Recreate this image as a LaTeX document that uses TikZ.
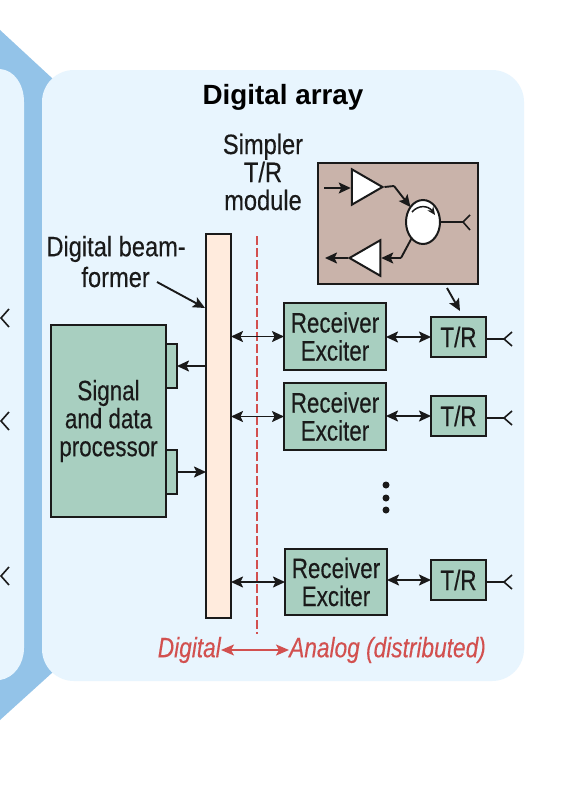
\documentclass[tikz,border=0pt]{standalone}
\usepackage{fontspec}
\setmainfont{Liberation Sans}
\newfontfamily\condf[FakeStretch=0.80,FakeBold=0.3]{Liberation Sans}
\newfontfamily\widef[FakeStretch=0.845,FakeBold=0.3]{Liberation Sans}
\newfontfamily\redf[FakeStretch=0.81,FakeBold=0.2]{Liberation Sans}
\usetikzlibrary{arrows.meta,shapes.geometric,calc}
\definecolor{panel}{HTML}{E8F5FE}
\definecolor{band}{HTML}{93C3E8}
\definecolor{grn}{HTML}{A8CFC0}
\definecolor{brn}{HTML}{C9B3AA}
\definecolor{peach}{HTML}{FFEBDD}
\definecolor{redc}{HTML}{D2504F}
\definecolor{ink}{HTML}{1A1A1A}
\tikzset{
  x=1pt,y=-1pt,
  gbox/.style={draw=ink,line width=2pt,fill=grn,inner sep=0pt,outer sep=0pt,text=ink,align=center,font=\condf\fontsize{28}{28}\selectfont},
  lbl/.style={inner sep=0pt,text=ink,align=center,font=\widef\fontsize{28}{28}\selectfont},
  redlbl/.style={inner sep=0pt,text=redc,font=\redf\itshape\fontsize{28}{28}\selectfont},
  conn/.style={draw=ink,line width=1.9pt},
  arr/.style={conn,-{Stealth[length=12pt,width=11pt,inset=2.5pt]}},
  darr/.style={conn,{Stealth[length=12pt,width=11pt,inset=2.5pt]}-{Stealth[length=12pt,width=11pt,inset=2.5pt]}},
  tri/.style={draw=ink,line width=2pt,fill=white,line join=miter},
  ant/.style={draw=ink,line width=1.6pt},
}
\begin{document}
\begin{tikzpicture}
\useasboundingbox (0,0) rectangle (573,800);
\fill[white] (0,0) rectangle (573,800);
% blue band
\fill[band] (0,30) -- (53,79) -- (53,672) -- (0,720) -- cycle;
% left panel
\fill[panel] (0,69) .. controls (14,70) and (24,84) .. (24,102) -- (24,648) .. controls (24,664) and (14,678) .. (0,680) -- cycle;
% antennas on the left panel
\foreach \yy in {318,421,576}
  \draw[ant] (9,\yy-9) -- (1,\yy) -- (9,\yy+9);
% main panel
\fill[panel,rounded corners=32pt] (42,70) rectangle (524,681);
\node[inner sep=0pt,text=black,font=\bfseries\fontsize{27.8}{28}\selectfont] (title) at (283,97) {Digital array};
\node[lbl] (simpler) at (263,172) {Simpler\\T/R\\module};
\node[lbl,anchor=east] (dbf) at (186,249) {Digital beam-};
\node[lbl,anchor=east] (dbf2) at (150,277) {former};
% digital beamformer bar
\node[draw=ink,line width=2pt,fill=peach,minimum width=25pt,minimum height=384pt,inner sep=0pt,outer sep=0pt] (bar) at (218.5,426) {};
% dashed divider
\coordinate (dtop) at (257,236);
\coordinate (dbot) at (257,634);
\draw[redc,line width=1.5pt,dash pattern=on 9pt off 3pt] (dtop) -- (dbot);
% processor
\node[gbox,minimum width=11pt,minimum height=44pt] (tab1) at (171.5,366) {};
\node[gbox,minimum width=11pt,minimum height=44pt] (tab2) at (171.5,472) {};
\node[gbox,minimum width=115pt,minimum height=192pt] (sdp) at (108.5,421) {Signal\\and data\\processor};
% receivers
\node[gbox,minimum width=102pt,minimum height=67pt] (rx1) at (335,336.5) {Receiver\\Exciter};
\node[gbox,minimum width=102pt,minimum height=67pt] (rx2) at (335,416.5) {Receiver\\Exciter};
\node[gbox,minimum width=102pt,minimum height=66pt] (rx3) at (336,582) {Receiver\\Exciter};
% T/R
\node[gbox,minimum width=55pt,minimum height=40pt] (tr1) at (458.5,337) {T/R};
\node[gbox,minimum width=55pt,minimum height=40pt] (tr2) at (458.5,416) {T/R};
\node[gbox,minimum width=55pt,minimum height=40pt] (tr3) at (458.5,580) {T/R};
% connectors
\draw[darr] (bar.east |- rx1.west) -- (rx1.west);
\draw[darr] (bar.east |- rx2.west) -- (rx2.west);
\draw[darr] (bar.east |- rx3.west) -- (rx3.west);
\draw[darr] (rx1.east |- tr1.west) -- (tr1.west);
\draw[darr] (rx2.east |- tr2.west) -- (tr2.west);
\draw[darr] (rx3.east |- tr3.west) -- (tr3.west);
\draw[arr] (bar.west |- tab1.east) -- (tab1.east);
\draw[arr] (tab2.east) -- (bar.west |- tab2.east);
\coordinate (dbfs) at (157,282);
\coordinate (dbfe) at (205,308);
\draw[arr] (dbfs) -- (dbfe);
% T/R antennas
\foreach \n in {1,2,3}{
  \coordinate (a\n) at ($(tr\n.east)+(18,2)$);
  \draw[ant] (tr\n.east |- a\n) -- (a\n) ++(8,-7) -- ++(-8,7) -- ++(8,7);
}
% dots
\foreach \yy [count=\i] in {485,498,510}
  \node[circle,fill=ink,minimum size=7pt,inner sep=0pt] (dot\i) at (386,\yy) {};
% T/R module detail
\node[draw=ink,line width=2pt,fill=brn,minimum width=160pt,minimum height=121pt,inner sep=0pt,outer sep=0pt] (mod) at (398,223.5) {};
\node[tri,regular polygon,regular polygon sides=3,shape border rotate=-90,inner sep=0pt,minimum size=41pt] (amp1) at (362,187) {};
\node[tri,regular polygon,regular polygon sides=3,shape border rotate=90,inner sep=0pt,minimum size=41pt] (amp2) at (370,258) {};
\node[draw=ink,line width=2pt,fill=white,ellipse,minimum width=34pt,minimum height=44pt,inner sep=0pt,outer sep=0pt] (circ) at (423,222) {};
\coordinate (in1) at (324,188);
\coordinate (b1) at (394,186);
\coordinate (b2) at (401,258);
\coordinate (out2) at (325,258);
\draw[arr] (in1) -- (amp1.west |- in1);
\draw[conn] (amp1.east) -- (b1);
\draw[arr] (b1) -- (circ.130);
\draw[conn] (circ.235) -- (b2);
\draw[arr] (b2) -- (amp2.east |- b2);
\draw[arr] (amp2.west) -- (out2);
\draw[conn,-{Stealth[length=8pt,width=7pt]},line width=1.5pt] (412,212) .. controls (418,205) and (428,205) .. (435,215);
\coordinate (ma) at (463,222);
\draw[ant] (circ.east) -- (ma) ++(7,-7) -- ++(-7,7) -- ++(7,8);
\coordinate (ms) at (447,288);
\coordinate (me) at (460,311);
\draw[arr] (ms) -- (me);
% bottom labels
\node[redlbl,anchor=east] (dig) at (221,650) {Digital};
\node[redlbl,anchor=west] (ana) at (289,650) {Analog (distributed)};
\draw[draw=redc,line width=1.7pt,{Stealth[length=13pt,width=11pt,inset=3pt]}-{Stealth[length=13pt,width=11pt,inset=3pt]}] (dig.east |- 0,650) -- (ana.west |- 0,650);
\end{tikzpicture}
\end{document}
